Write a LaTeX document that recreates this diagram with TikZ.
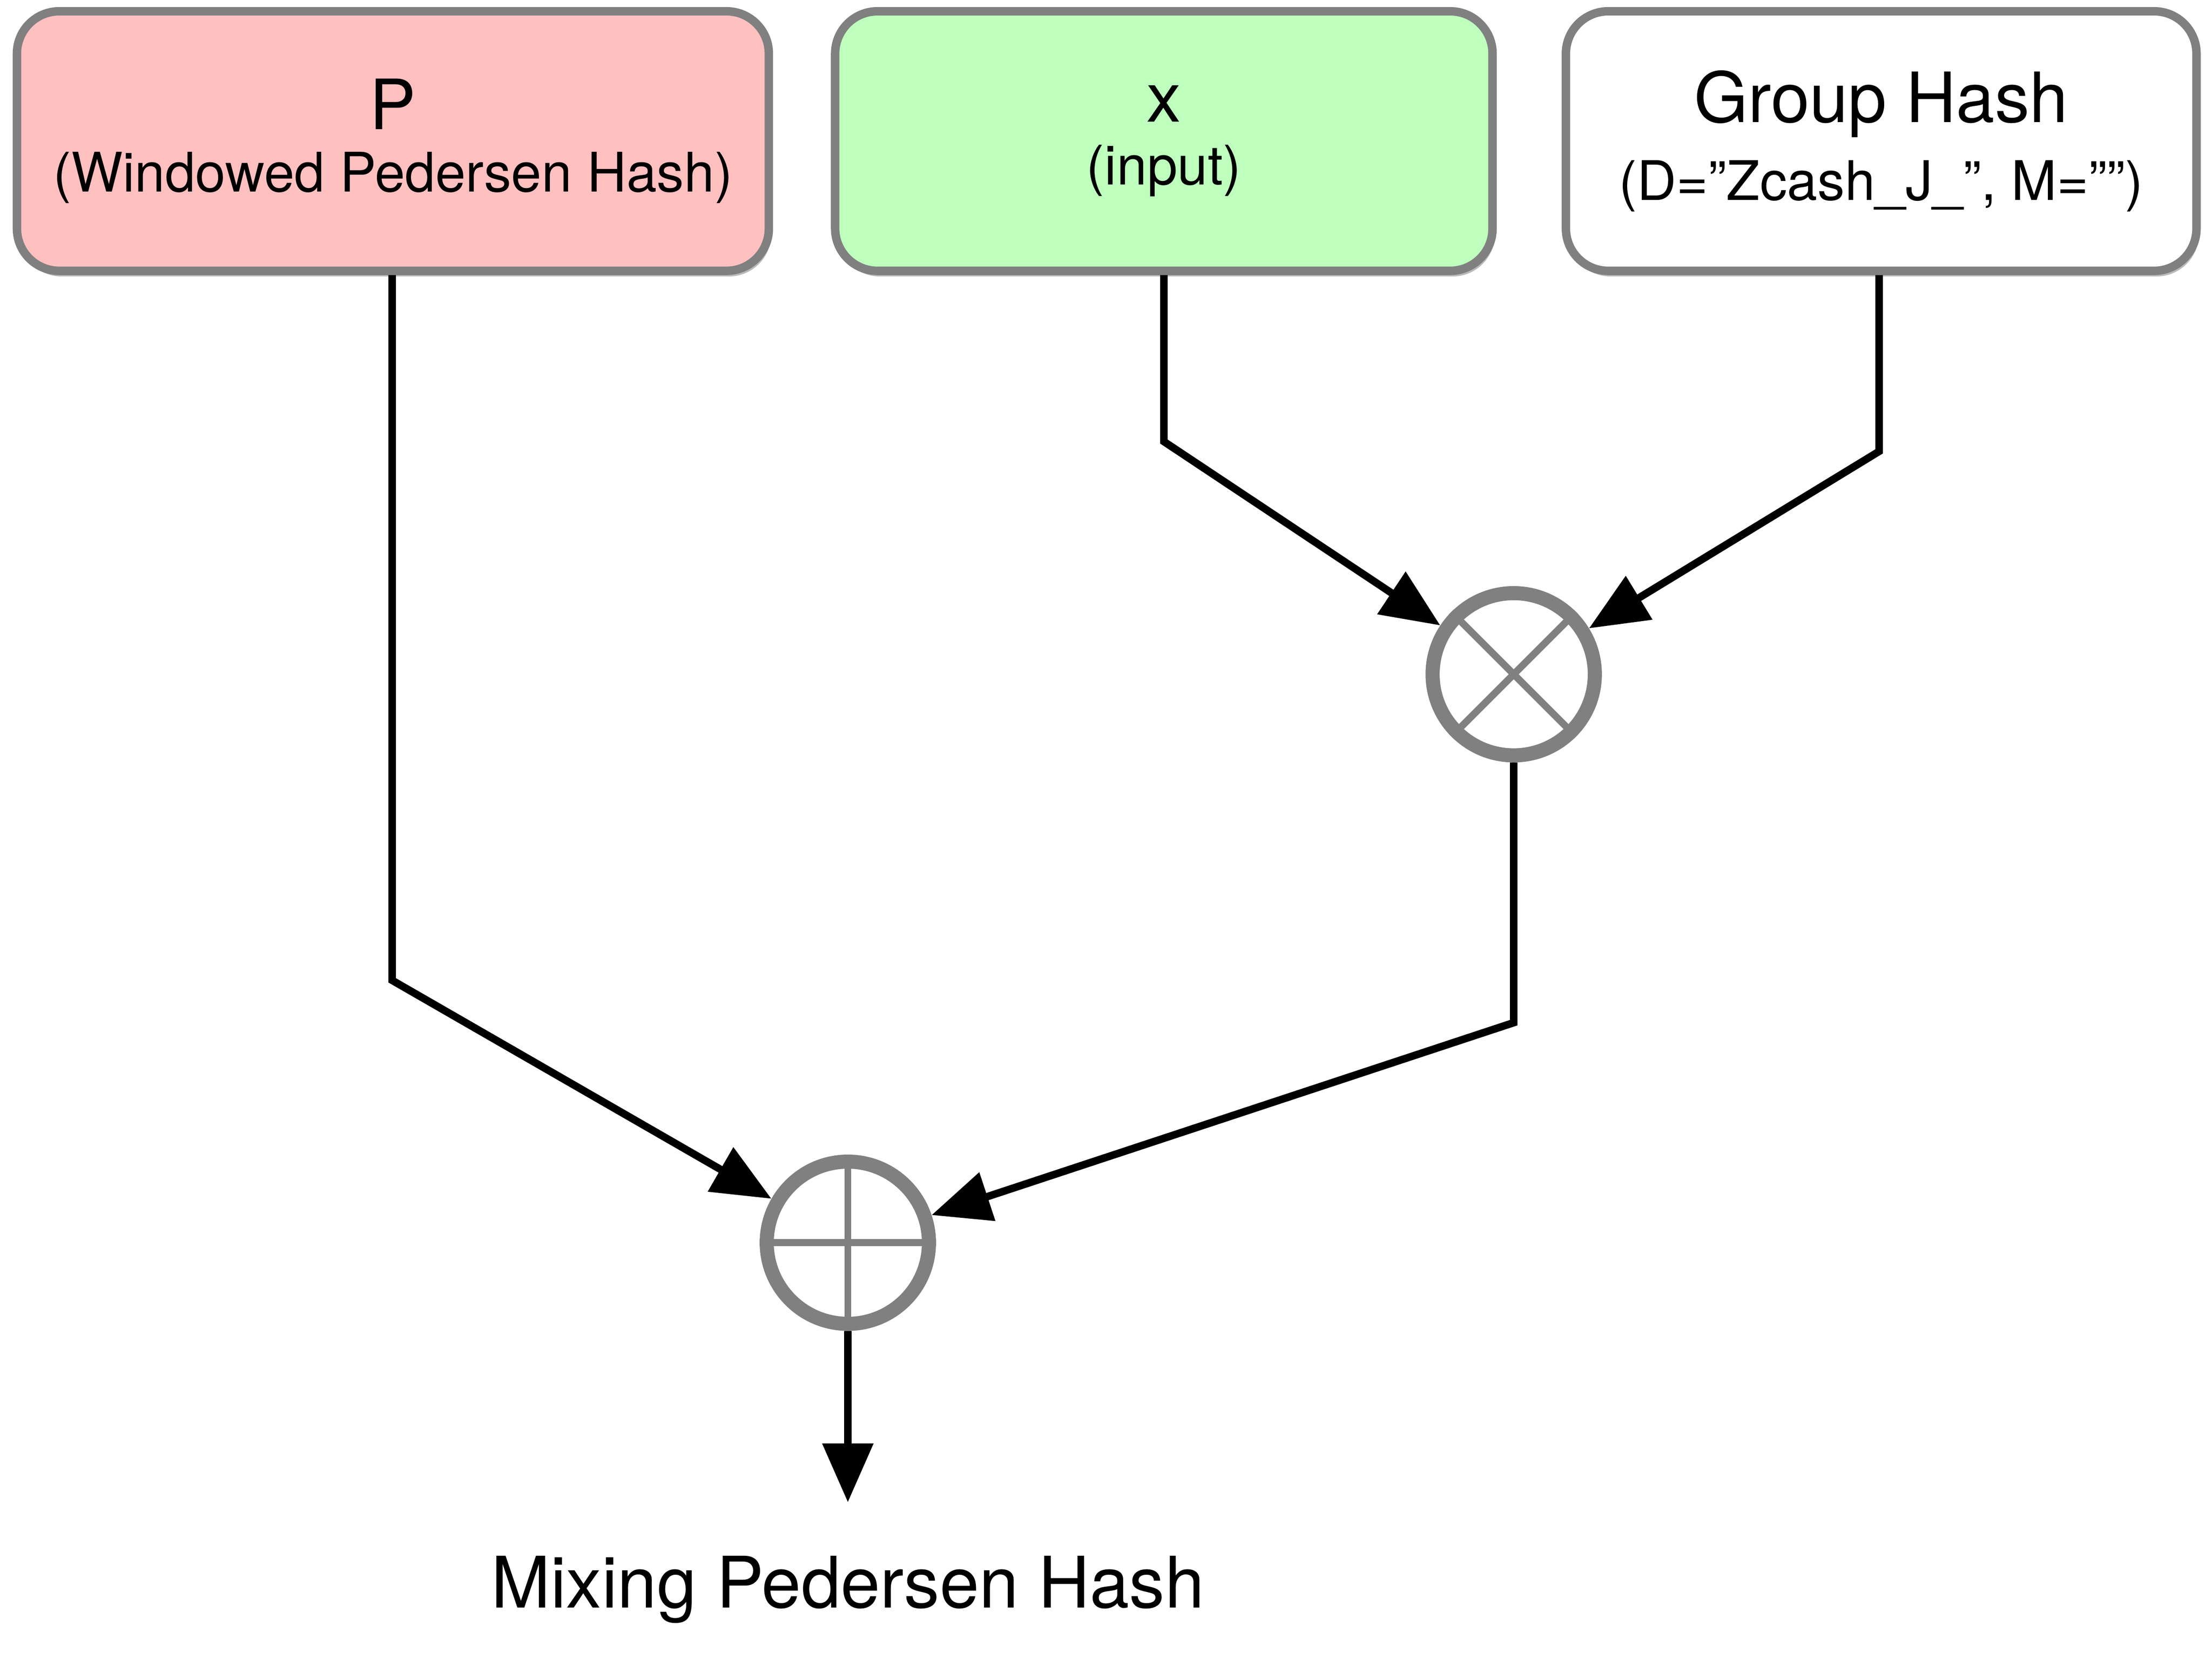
\documentclass[tikz,border=0pt]{standalone}
\usepackage{fontspec}
\setmainfont{TeX Gyre Heros}
\usetikzlibrary{arrows.meta,shadows}
\begin{document}
\begin{tikzpicture}[x=0.03cm,y=-0.03cm,
 box/.style={draw=black!50,line width=0.18cm,rounded corners=0.9cm,minimum height=184*0.03cm,align=center,inner sep=0,
   drop shadow={shadow xshift=0.05cm,shadow yshift=-0.12cm,fill=black!45,opacity=0.6}},
 op/.style={circle,draw=black!50,line width=0.3cm,minimum size=115*0.03cm,inner sep=0},
 con/.style={line width=0.16cm,-{Triangle[length=1.25cm,width=1.05cm]}}]
\useasboundingbox (0,0) rectangle (1568,1186);
\node[box,fill={rgb,255:red,255;green,192;blue,192},minimum width=533*0.03cm] (P) at (278.5,100)
 {\fontsize{42}{50}\selectfont P\\[0.45cm]\fontsize{33}{40}\selectfont(Windowed Pedersen Hash)};
\node[box,fill={rgb,255:red,190;green,255;blue,190},minimum width=466*0.03cm] (X) at (825,100)
 {\fontsize{42}{50}\selectfont x\\[0.45cm]\fontsize{33}{40}\selectfont(input)};
\node[box,fill=white,minimum width=447*0.03cm] (G) at (1333.5,100)
 {\fontsize{42}{50}\selectfont Group Hash\\[0.45cm]\fontsize{33}{40}\selectfont(D=”Zcash\_J\_”, M=””)};
\node[op] (M) at (1073,478) {};
\draw[black!50,line width=0.15cm] (M.45) -- (M.225) (M.135) -- (M.315);
\node[op] (A) at (601,881) {};
\draw[black!50,line width=0.15cm] (A.180) -- (A.0) (A.90) -- (A.270);
\node[font=\fontsize{43}{52}\selectfont] (out) at (601,1127) {Mixing Pedersen Hash};
\coordinate (p1) at (278,695);
\coordinate (x1) at (825,313);
\coordinate (g1) at (1332,320);
\coordinate (m1) at (1073,725);
\coordinate (o1) at (601,1065);
\draw[con] (278,195) -- (p1) -- (A);
\draw[con] (825,195) -- (x1) -- (M);
\draw[con] (1332,195) -- (g1) -- (M);
\draw[con] (M) -- (m1) -- (A);
\draw[con] (A) -- (o1);
\end{tikzpicture}
\end{document}
